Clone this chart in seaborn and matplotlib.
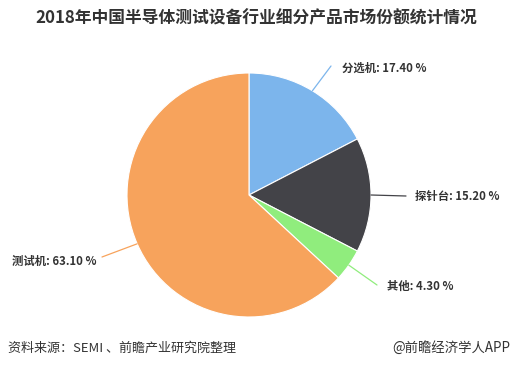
import numpy as np
import matplotlib
matplotlib.use("Agg")
import matplotlib.pyplot as plt
import seaborn as sns

# ---- data ----
categories = ["分选机", "探针台", "其他", "测试机"]
shares = [17.40, 15.20, 4.30, 63.10]
colors = ["#7cb5ec", "#434348", "#90ed7d", "#f7a35c"]
title = "2018年中国半导体测试设备行业细分产品市场份额统计情况"
source = "资料来源：SEMI 、前瞻产业研究院整理"
credit = "@前瞻经济学人APP"

sns.set_theme(style="white")
plt.rcParams['font.family'] = ['Noto Sans CJK SC', 'DejaVu Sans']

W, H = 512, 367
fig = plt.figure(figsize=(W / 100, H / 100), dpi=100)
cx, cy, r = 249, 195, 122
ax = fig.add_axes([(cx - r) / W, (H - cy - r) / H, 2 * r / W, 2 * r / H])
palette = sns.color_palette(colors)
wedges, _ = ax.pie(shares, colors=palette, startangle=90, counterclock=False,
                   radius=1, wedgeprops=dict(edgecolor='white', linewidth=0.8))
ax.set_xlim(-1, 1)
ax.set_ylim(-1, 1)
ax.set_aspect('auto')
ax.axis('off')


def px2d(px, py):
    return ((px - cx) / r, (cy - py) / r)


layout = {
    "分选机": dict(end=(331, 66), text=(342, 68), ha='left'),
    "探针台": dict(end=(406, 196), text=(415, 196), ha='left'),
    "其他": dict(end=(377, 285), text=(387, 286), ha='left'),
    "测试机": dict(end=(102, 257), text=(96, 261), ha='right'),
}

for w, cat, val, col in zip(wedges, categories, shares, colors):
    mid = np.deg2rad((w.theta1 + w.theta2) / 2)
    ex, ey = np.cos(mid), np.sin(mid)
    L = layout[cat]
    x2, y2 = px2d(*L['end'])
    ax.plot([ex, x2], [ey, y2], color=col, lw=0.9, clip_on=False)
    tx, ty = px2d(*L['text'])
    ax.text(tx, ty, f"{cat}: {val:.2f} %", ha=L['ha'], va='center',
            fontsize=8.2, fontweight='bold', color='#333333', clip_on=False)

fig.text(0.5, 1 - 18 / H, title, ha='center', va='center', fontsize=12.1,
         fontweight='bold', color='#333333')
fig.text(8 / W, 1 - 348 / H, source, ha='left', va='center', fontsize=9.4,
         color='#333333')
fig.text(510 / W, 1 - 348 / H, credit, ha='right', va='center', fontsize=9.6,
         color='#333333')

fig.savefig("out.png", dpi=100)
